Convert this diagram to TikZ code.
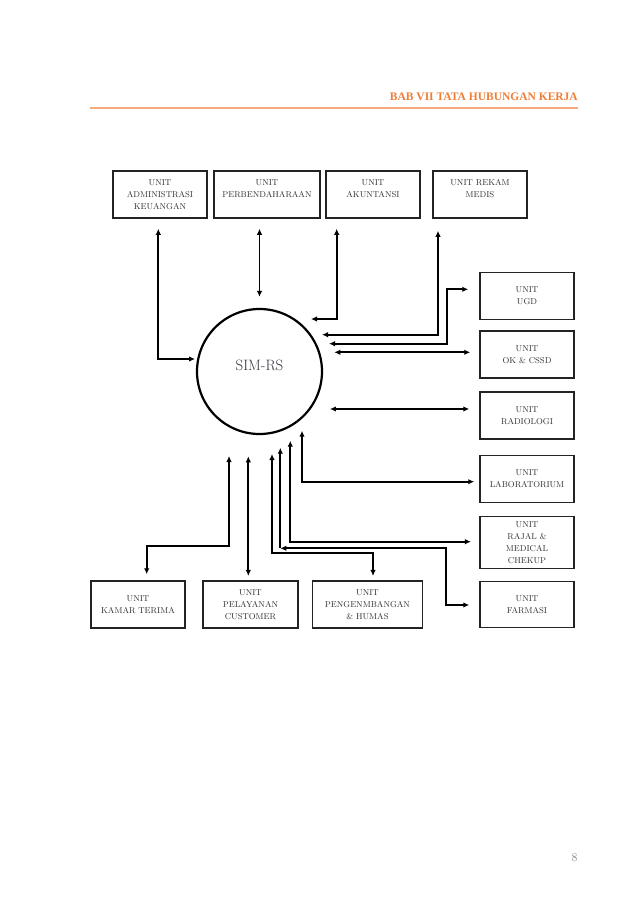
\documentclass[tikz,border=0pt]{standalone}
\usepackage{fontspec}
\usepackage{tikz}
\usetikzlibrary{arrows.meta,positioning}
\newfontfamily\headfont{Liberation Serif}
\definecolor{headorange}{RGB}{238,125,55}
\definecolor{boxgray}{RGB}{35,35,35}
\definecolor{textgray}{RGB}{45,45,45}
\definecolor{hubgray}{RGB}{50,50,65}

\begin{document}
\begin{tikzpicture}[
  x=1pt, y=1pt,
  unitbox/.style={rectangle, draw=boxgray, line width=1.5pt, minimum width=94pt, minimum height=47pt, align=center, inner sep=2pt, text=textgray, font=\fontsize{8.5}{12}\selectfont},
  hub/.style={circle, draw=black, line width=2.2pt, minimum size=125pt, text=hubgray, text depth=12pt, font=\fontsize{15}{18}\selectfont},
  link/.style={-{Latex[length=6pt,width=5.5pt]}, line width=1.7pt},
  bilink/.style={{Latex[length=6pt,width=5.5pt]}-{Latex[length=6pt,width=5.5pt]}, line width=1.7pt},
]
  \useasboundingbox (0,0) rectangle (638,-902);

  % Header
  \node[anchor=base east, inner sep=0pt, text=headorange, font=\headfont\bfseries\fontsize{11.5}{14}\selectfont] (title) at (578,-100) {BAB VII TATA HUBUNGAN KERJA};
  \draw[headorange!65, line width=1.5pt] (90,-108) -- (578,-108);

  % Hub
  \node[hub] (sim) at (259.5,-371.5) {SIM-RS};

  % Top units
  \node[unitbox] (admin) at (160,-194.5) {UNIT\\ADMINISTRASI\\KEUANGAN};
  \node[unitbox, minimum width=106pt, right=5.5pt of admin] (perb) {UNIT\\PERBENDAHARAAN\\\mbox{}};
  \node[unitbox, right=4.5pt of perb] (akun) {UNIT\\AKUNTANSI\\\mbox{}};
  \node[unitbox, right=11.5pt of akun] (rekam) {UNIT REKAM\\MEDIS\\\mbox{}};

  % Right units
  \node[unitbox] (ugd) at (527,-296) {UNIT\\UGD};
  \node[unitbox, below=9.8pt of ugd] (ok) {UNIT\\OK \& CSSD};
  \node[unitbox, below=12.9pt of ok] (rad) {UNIT\\RADIOLOGI};
  \node[unitbox, below=14.8pt of rad] (lab) {UNIT\\LABORATORIUM};
  \node[unitbox, minimum height=52pt, below=12.7pt of lab] (rajal) {UNIT\\RAJAL \&\\MEDICAL\\CHEKUP};
  \node[unitbox, minimum height=46pt, below=11.1pt of rajal] (farm) {UNIT\\FARMASI};

  % Bottom units
  \node[unitbox] (kamar) at (138,-604.5) {UNIT\\KAMAR TERIMA};
  \node[unitbox, minimum width=95pt, right=16.5pt of kamar] (pel) {UNIT\\PELAYANAN\\CUSTOMER};
  \node[unitbox, minimum width=109.6pt, right=13.2pt of pel] (peng) {UNIT\\PENGENMBANGAN\\\& HUMAS};

  % Links to top units
  \draw[bilink] ([shift={(-1.7,-10)}]admin.south) |- ([shift={(-64.5,12.5)}]sim.center);
  \draw[bilink, shorten <=10pt, shorten >=11pt] (sim.north |- perb.south) -- (sim.north);
  \draw[bilink] ([shift={(-36.3,-10)}]akun.south) |- ([shift={(51.5,52.5)}]sim.center);
  \draw[bilink] ([shift={(-42,-12)}]rekam.south) |- ([shift={(62.5,36.8)}]sim.center);

  % Links to right units
  \draw[bilink] ([shift={(69.5,27.8)}]sim.center) -- ++(118.2,0) |- ([shift={(-11,6.7)}]ugd.west);
  \draw[bilink] ([shift={(-9,2)}]ok.west) -- ++(-136,0);
  \draw[bilink] ([shift={(-10,6.7)}]rad.west) -- ++(-139.3,0);
  \draw[bilink] ([shift={(-5,-2.7)}]lab.west) -| ([shift={(42.5,-59.2)}]sim.center);
  \draw[bilink] ([shift={(-8.3,1)}]rajal.west) -| ([shift={(30.8,-69.2)}]sim.center);
  \coordinate (farmjoin) at ([shift={(20.8,-176.8)}]sim.center);
  \draw[bilink] ([shift={(-10,-0.7)}]farm.west) -- ++(-23.3,0) |- (farmjoin);
  \draw[link] (farmjoin) -- ([shift={(20.8,-76.2)}]sim.center);

  % Links to bottom units
  \draw[bilink] ([shift={(5.5,4.3)}]peng.north) -- ++(0,22.7) -| ([shift={(12.5,-82.5)}]sim.center);
  \draw[bilink] ([shift={(-2.2,4.3)}]pel.north) -- ++(0,119.7);
  \draw[bilink] ([shift={(8.7,6)}]kamar.north) -- ++(0,28) -| ([shift={(-30.5,-84.5)}]sim.center);

  % Page number
  \node[text=gray, font=\fontsize{12}{14}\selectfont] (pagenum) at (574.5,-857.5) {8};
\end{tikzpicture}
\end{document}
